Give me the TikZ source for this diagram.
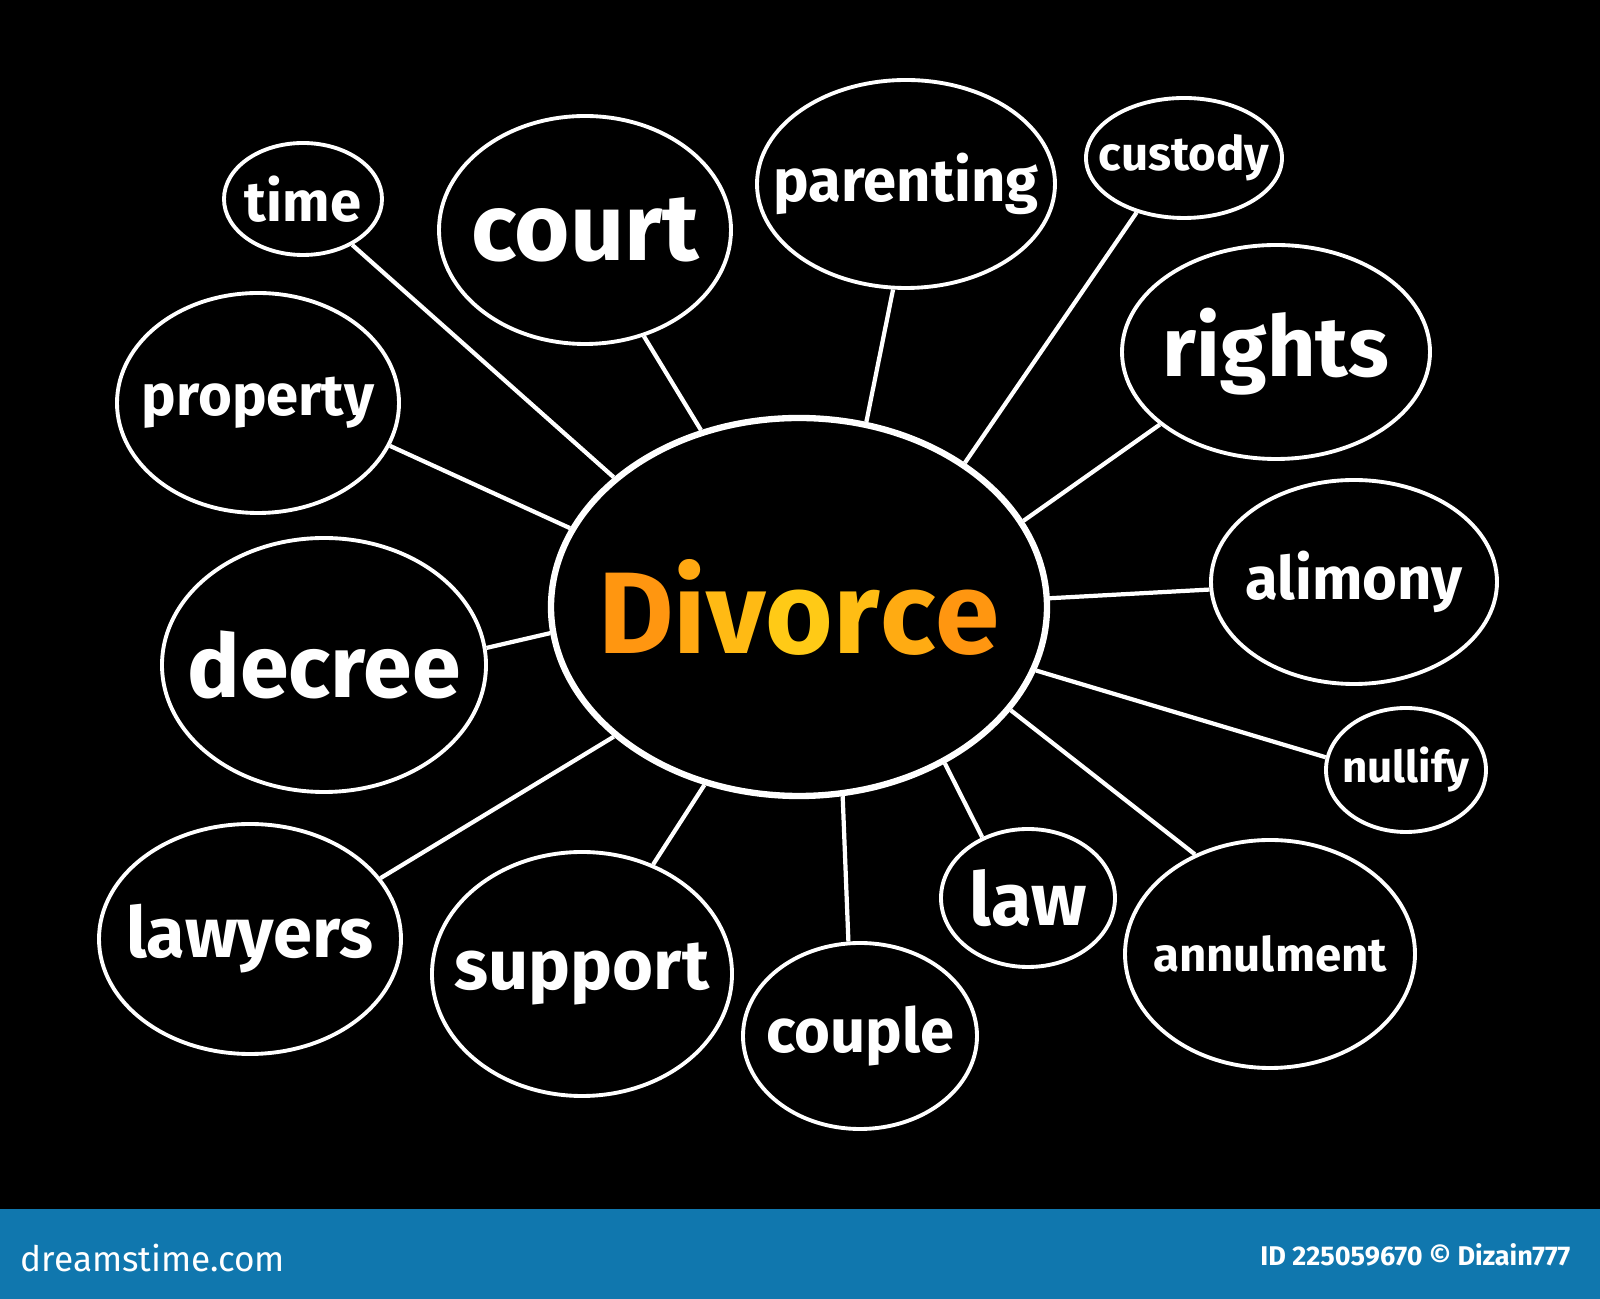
\documentclass[tikz,border=0pt]{standalone}
\usepackage{fontspec}
\setmainfont{Fira Sans}
\usetikzlibrary{shapes.geometric}
\definecolor{barblue}{HTML}{1077AE}
\definecolor{divA}{HTML}{FF9610}
\definecolor{divB}{HTML}{FFCA16}
\newcommand{\wordbox}[1]{\makebox[0pt]{#1}}
\tikzset{
  bubble/.style n args={3}{ellipse, draw=white, line width=1.1pt, text=white,
    inner sep=0pt, minimum width=#1*0.2mm, minimum height=#2*0.2mm,
    font=\bfseries\fontsize{#3}{#3}\selectfont},
  link/.style={draw=white, line width=1.2pt},
}
\begin{document}
\begin{tikzpicture}[x=0.1mm, y=-0.1mm]
    \useasboundingbox (0,0) rectangle (1600,1299);
    \fill[black] (0,0) rectangle (1600,1209);
    \fill[barblue] (0,1209) rectangle (1600,1299);
    \node[bubble={248}{189}{33}, line width=1.8pt] (divorce) at (799,607) {\wordbox{%
      \textcolor{divA}{D}\textcolor{divB!35!divA}{i}\textcolor{divB!70!divA}{v}%
      \textcolor{divB}{o}\textcolor{divB!75!divA}{r}\textcolor{divB!40!divA}{c}%
      \textcolor{divA}{e}}};
    \node[bubble={79}{56}{16}] (time) at (303,199) {\wordbox{time}};
    \node[bubble={146}{114}{27}] (court) at (585,230) {\wordbox{court}};
    \node[bubble={149}{104}{17}] (parenting) at (906,184) {\wordbox{parenting}};
    \node[bubble={98}{60}{13.5}] (custody) at (1184,158) {\wordbox{custody}};
    \node[bubble={154}{107}{24}] (rights) at (1276,352) {\wordbox{rights}};
    \node[bubble={143}{102}{17}] (alimony) at (1354,582) {\wordbox{alimony}};
    \node[bubble={80}{62}{12.5}] (nullify) at (1406,770) {\wordbox{nullify}};
    \node[bubble={145}{114}{13.5}] (annulment) at (1270,954) {\wordbox{annulment}};
    \node[bubble={87}{69}{21}] (law) at (1028,898) {\wordbox{law}};
    \node[bubble={117}{93}{17.5}] (couple) at (860,1036) {\wordbox{couple}};
    \node[bubble={150}{122}{20}] (support) at (582,974) {\wordbox{support}};
    \node[bubble={151}{115}{20}] (lawyers) at (250,939) {\wordbox{lawyers}};
    \node[bubble={162}{127}{25}] (decree) at (324,665) {\wordbox{decree}};
    \node[bubble={141}{110}{16.5}] (property) at (258,403) {\wordbox{property}};
    \draw[link] (divorce.145) -- (time.-43);
    \draw[link] (divorce.119) -- (court.-61);
    \draw[link] (divorce.70) -- (parenting.263);
    \draw[link] (divorce.41) -- (custody.229);
    \draw[link] (divorce.21) -- (rights.212);
    \draw[link] (divorce.2) -- (alimony.183);
    \draw[link] (divorce.-15) -- (nullify.171);
    \draw[link] (divorce.-26) -- (annulment.127);
    \draw[link] (divorce.-47) -- (law.127);
    \draw[link] (divorce.-77) -- (couple.97);
    \draw[link] (divorce.242) -- (support.57);
    \draw[link] (divorce.215) -- (lawyers.25);
    \draw[link] (divorce.186) -- (decree.6);
    \draw[link] (divorce.161) -- (property.-18);
    \node[text=white, anchor=west, inner sep=0pt, font=\fontsize{10}{10}\selectfont] (site) at (20,1258) {dreamstime.com};
    \node[text=white, anchor=east, inner sep=0pt, font=\bfseries\fontsize{7.7}{7.7}\selectfont] (credit) at (1571,1255) {ID 225059670 © Dizain777};
\end{tikzpicture}
\end{document}
